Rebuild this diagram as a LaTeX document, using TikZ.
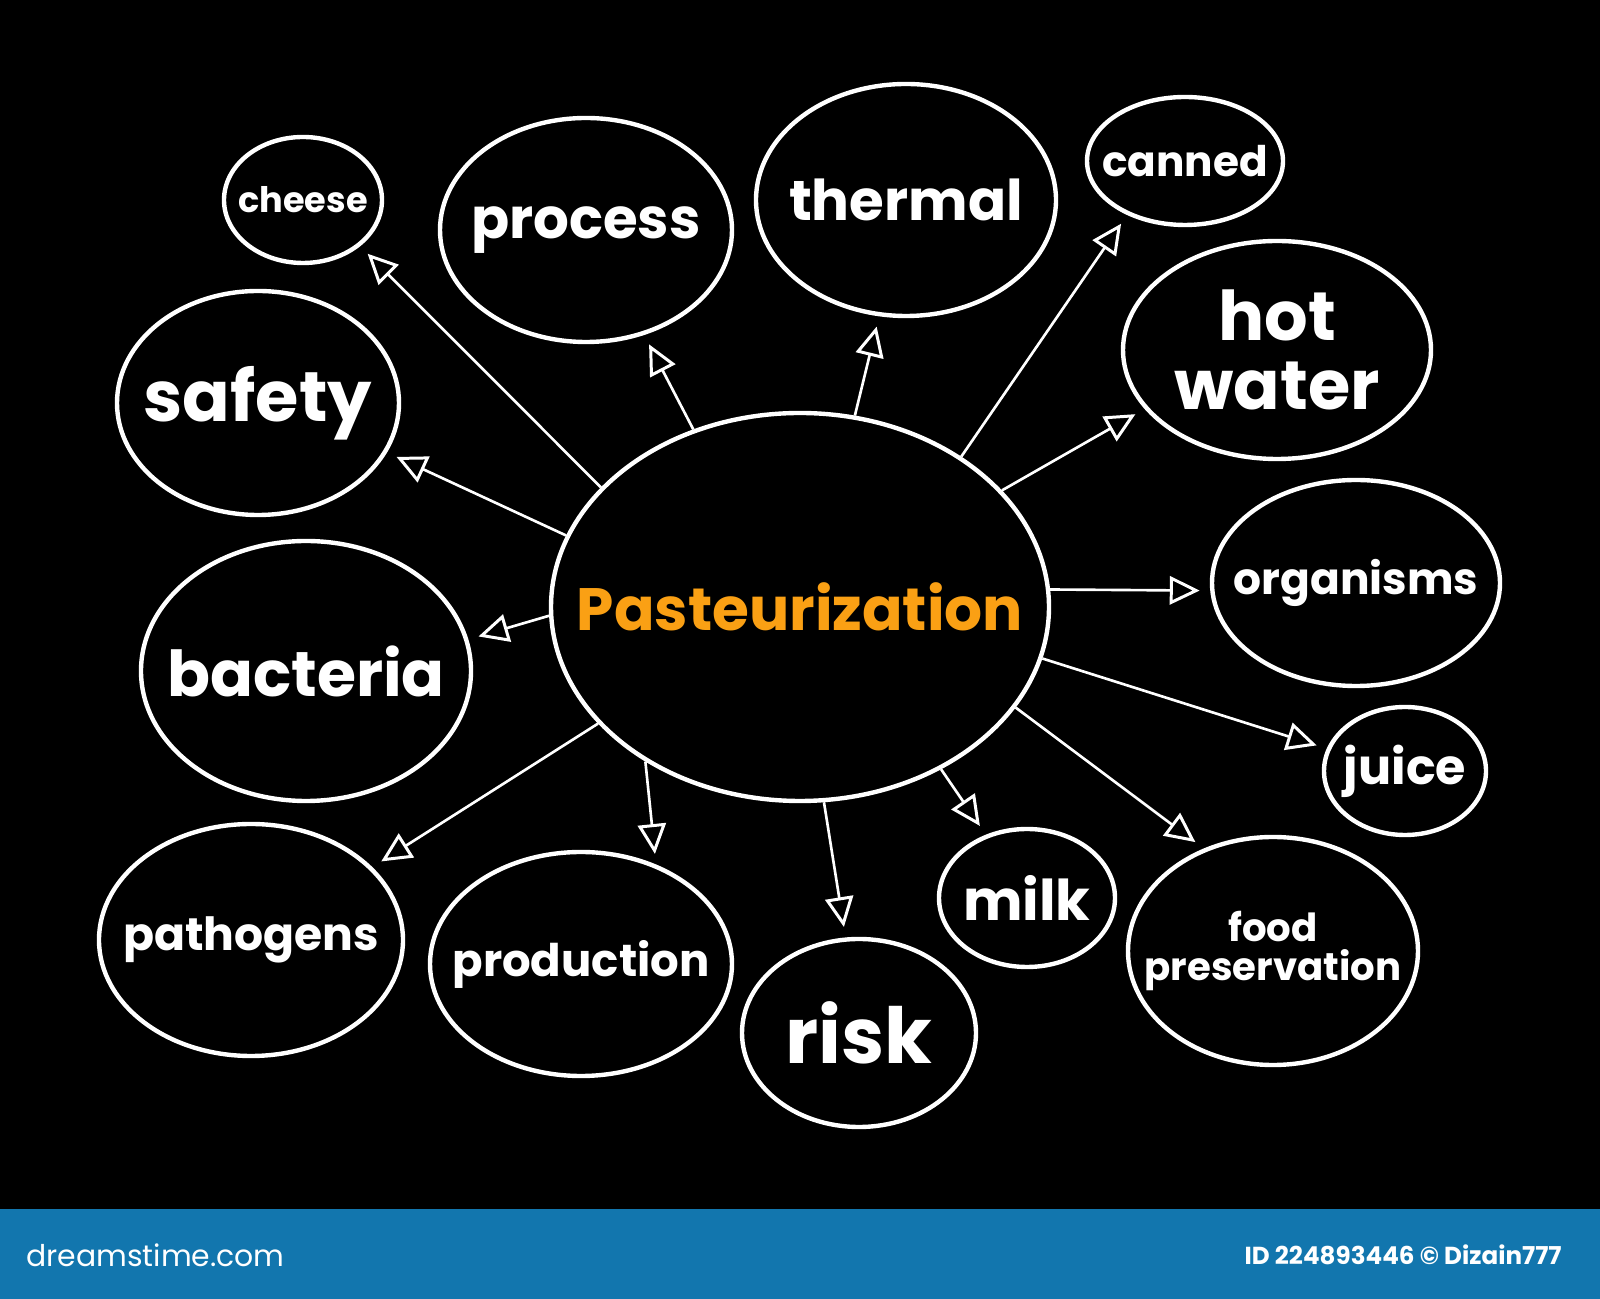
\documentclass[tikz,border=0pt]{standalone}
\usepackage{fontspec}
\setmainfont{Poppins}
\usetikzlibrary{shapes.geometric,arrows.meta}
\definecolor{footblue}{RGB}{18,118,174}
\definecolor{pastorange}{RGB}{250,160,20}
\begin{document}
\begin{tikzpicture}[x=0.1mm, y=-0.1mm,
    bub/.style={ellipse, draw=white, line width=1.25pt, inner sep=0pt},
    word/.style={text=white, align=center, font=\fontsize{#1}{#1}\selectfont\bfseries},
    arr/.style={-{Triangle[open, length=8.5pt, width=8pt, line width=0.85pt]},
                white, line width=0.75pt, shorten >=3pt},
  ]
  \fill[black] (0,0) rectangle (1600,1299);
  \useasboundingbox (0,0) rectangle (1600,1299);

  % centre
  \node[bub, minimum width=49.8mm, minimum height=38.8mm,
        label={[word=17, text=pastorange]center:Pasteurization}] (pc) at (800,607) {};

  % upper row
  \node[bub, minimum width=15.8mm, minimum height=12.6mm, label={[word=10]center:cheese}] (cheese) at (303,200) {};
  \node[bub, minimum width=29.2mm, minimum height=22.4mm, label={[word=16]center:process}] (process) at (586,230) {};
  \node[bub, minimum width=30mm, minimum height=23.2mm, label={[word=16]center:thermal}] (thermal) at (906,200) {};
  \node[bub, minimum width=19.6mm, minimum height=12.8mm, label={[word=12]center:canned}] (canned) at (1185,161) {};
  \node[bub, minimum width=30.8mm, minimum height=21.8mm, label={[word=19.5]center:hot\\water}] (hotwater) at (1277,350) {};

  % left side
  \node[bub, minimum width=28.2mm, minimum height=22.4mm, label={[word=20]center:safety}] (safety) at (258,403) {};
  \node[bub, minimum width=33mm, minimum height=26mm, label={[word=18]center:bacteria}] (bacteria) at (306,671) {};
  \node[bub, minimum width=30.4mm, minimum height=23.2mm, label={[word=13]center:pathogens}] (pathogens) at (251,940) {};

  % right side
  \node[bub, minimum width=28.8mm, minimum height=20.6mm, label={[word=12.5]center:organisms}] (organisms) at (1356,583) {};
  \node[bub, minimum width=16.2mm, minimum height=12.8mm, label={[word=14]center:juice}] (juice) at (1405,771) {};
  \node[bub, minimum width=29mm, minimum height=22.8mm, label={[word=11]center:food\\preservation}] (food) at (1273,951) {};

  % lower row
  \node[bub, minimum width=30.2mm, minimum height=22.4mm, label={[word=12.8]center:production}] (production) at (581,964) {};
  \node[bub, minimum width=23.4mm, minimum height=18.8mm, label={[word=22]center:risk}] (risk) at (859,1033) {};
  \node[bub, minimum width=17.6mm, minimum height=13.8mm, label={[word=16]center:milk}] (milk) at (1027,898) {};

  % connectors
  \draw[arr] (pc.149) -- (cheese.-39);
  \draw[arr] (pc.121) -- (process.-61);
  \draw[arr] (pc.74) -- (thermal.-103);
  \draw[arr] (pc.43) -- (canned.-137);
  \draw[arr] (pc.30) -- (hotwater.204);
  \draw[arr] (pc.163) -- (safety.-21);
  \draw[arr] (pc.182) -- (bacteria.11);
  \draw[arr] (pc.4) -- (organisms.183);
  \draw[arr] (pc.-12) -- (juice.164);
  \draw[arr] (pc.210) -- (pathogens.31);
  \draw[arr] (pc.225) -- (production.53);
  \draw[arr] (pc.-83) -- (risk.98);
  \draw[arr] (pc.-49) -- (milk.123);
  \draw[arr] (pc.-25) -- (food.124);

  % footer
  \fill[footblue] (0,1209) rectangle (1600,1299);
  \node[text=white, font=\fontsize{8.5}{10}\selectfont, anchor=west] (site) at (14,1255) {dreamstime.com};
  \node[text=white, font=\fontsize{7}{9}\selectfont\bfseries, anchor=east] (credit) at (1574,1255) {ID 224893446 © Dizain777};
\end{tikzpicture}
\end{document}
